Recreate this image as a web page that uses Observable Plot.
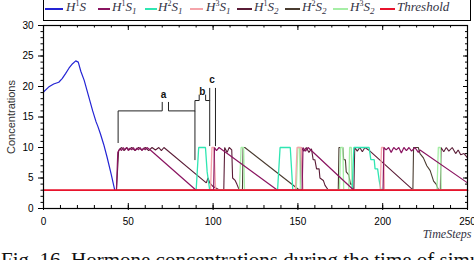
<!DOCTYPE html>
<html><head><meta charset="utf-8">
<script src="https://cdn.jsdelivr.net/npm/d3@7"></script>
<script src="https://cdn.jsdelivr.net/npm/@observablehq/plot@0.6"></script>
<style>
html,body{margin:0;padding:0;background:#fff;overflow:hidden;}
#wrap{position:relative;width:474px;height:260px;overflow:hidden;}
#chart{position:absolute;left:0;top:0;}
#legend{position:absolute;left:43px;top:-6px;width:428px;height:27px;border:1px solid #000;box-sizing:border-box;background:#fff;}
.lline{position:absolute;height:2px;top:13px;}
.ltext{position:absolute;top:5px;font-family:"Liberation Serif",serif;font-style:italic;font-size:13px;line-height:13px;color:#333344;white-space:nowrap;}
.ltext sup{font-style:normal;font-size:8px;vertical-align:5px;line-height:0;}
.ltext sub{font-size:9px;vertical-align:-3px;line-height:0;}
#caption{position:absolute;left:1px;top:250px;font-family:"Liberation Serif",serif;font-size:21px;line-height:21px;color:#111;white-space:nowrap;}
</style></head>
<body>
<div id="wrap"><div id="chart"></div><div id="legend"></div><div id="caption">Fig. 16. Hormone concentrations during the time of simulation</div></div>
<script>
// ---- data (time step, concentration) ----
const h1s = [[0,19.1],[3,19.9],[6,20.4],[9,20.7],[11,21.3],[13,22.1],[15,23],[17,23.7],[19,24.2],[20.5,24],[22,22.5],[24,21],[26.5,18.5],[29,16],[31,14.2],[32,13.5],[33.5,12.3],[35.5,10.5],[37.5,8.4],[40,5.5],[42,3]];
const h1s1 = [[43,3],[43.8,9.2],[45,9.8],[46,9.5],[47,10],[48,9.6],[49,10],[50,9.5],[51,9.9],[52,9.6],[53,10],[54,9.5],[55,9.9],[56,9.6],[57,10],[58,9.5],[59,9.9],[60,9.6],[61,10],[63,9.6],[90,3],[100.3,3],[100.8,10],[102,9.5],[103.5,10],[138,3],[152.5,3],[153,10],[154.5,9.4],[156,10],[183,3],[200.2,3],[200.7,10],[202,9.6],[203.5,10],[205,9.2],[206.5,10],[208,9.6],[209.5,10],[211,9.1],[212.5,10],[214,9.5],[215.5,10],[217,9.4],[219,10],[221,9.2],[222,9.6],[250,4.2]];
const h2s1 = [[43,3],[90,3],[91.5,10],[95.5,10],[96.5,6],[97.5,4],[98,3],[138,3],[139.5,10],[145.5,10],[147,3],[182,3],[183,10],[192,10],[193,8],[195,8],[195.5,6.5],[197,6.5],[198,4.5],[199,3],[250,3]];
const h3s1 = [[43,3],[98.5,3],[99.3,10],[100.5,10],[101.5,3],[148.5,3],[149.5,10],[152,10],[153,3],[198.5,3],[199.3,10],[200.5,10],[201,3],[250,3]];
const h1s2 = [[43,3],[44.3,9.5],[46,10],[47.5,9.5],[49,10],[50.5,9.6],[52,10],[54,9.5],[56,10],[58,9.6],[60,10],[62,9.5],[64,10],[66,9.6],[68,10],[69.5,9.5],[71,10],[96,4.2],[97,5],[98,4.2],[100,3.6],[104,3],[106.3,3],[106.8,10],[108.3,9.2],[109.5,10],[111,9.6],[111.5,5],[113,4.6],[114,4],[115.5,3],[151.5,3],[152,10],[153.5,9.4],[155,10],[156.5,9.2],[158,9.8],[159,8],[160,8],[161,6.5],[162.5,6.5],[163,5],[165,4.6],[166,3.8],[168,3],[183,3],[183.5,10],[185,9.4],[186.5,10],[188,9.3],[189.5,10],[191.7,9.6],[218,3],[234,3],[234.4,10],[236,9.3],[237.5,10],[239,9.4],[241,10],[243,9],[244.5,9.6],[246,8.8],[248,9],[250,8.3]];
const h2s2 = [[43,3],[117.3,3],[117.7,10],[118.7,10],[151,3],[173.8,3],[174.2,10],[176.5,10],[177,8],[178,8],[178.5,6],[180,5.5],[181,4],[182,4],[182.5,3],[217.8,3],[218.2,10],[221,10],[222,9],[224,8.3],[226,7],[228,6.2],[230,4.5],[231.5,4],[233,3],[250,3]];
const h3s2 = [[43,3],[115.5,3],[116.5,10],[118,10],[118.5,3],[149,3],[150,10],[151,10],[151.5,3],[174.5,3],[175.2,10],[176.5,10],[177,3],[180,3],[180.5,10],[181.5,10],[182,3],[232,3],[232.8,10],[234,10],[234.5,3],[250,3]];
const threshold = [[0,3],[250,3]];

// ---- annotation brackets ----
const bracketA1 = [[44,10.8],[44,16],[70,16],[70,17.4]];
const bracketA2 = [[73.7,17.4],[73.7,16],[89.3,16],[89.3,8]];
const bracketB1 = [[89.3,16],[89.3,17.7],[91.8,17.7],[91.8,18.6]];
const bracketB2 = [[95.6,18.6],[95.6,17.7],[98,17.7],[98,10.3]];
const bracketC1 = [[98,17.7],[98,19.7]];
const bracketC2 = [[101.4,19.7],[101.4,10.3]];
const annLabels = ["a","b","c"];
const annT = [70.7,93.6,99.4];
const annC = [18.6,19.2,21.1];

// ---- ticks ----
const xMajor = [0,50,100,150,200,250];
const xMinor = [0,10,20,30,40,50,60,70,80,90,100,110,120,130,140,150,160,170,180,190,200,210,220,230,240,250];
const yMajor = [0,5,10,15,20,25,30];
const yMinor = [0,1,2,3,4,5,6,7,8,9,10,11,12,13,14,15,16,17,18,19,20,21,22,23,24,25,26,27,28,29,30];

// ---- series ----
const seriesNames = ["H<sup>1</sup>S","H<sup>1</sup>S<sub>1</sub>","H<sup>2</sup>S<sub>1</sub>","H<sup>3</sup>S<sub>1</sub>","H<sup>1</sup>S<sub>2</sub>","H<sup>2</sup>S<sub>2</sub>","H<sup>3</sup>S<sub>2</sub>","Threshold"];
const seriesData = [h1s,h1s1,h2s1,h3s1,h1s2,h2s2,h3s2,threshold];
const seriesColors = ["#2424d4","#8a1460","#2fe6b2","#f5a4aa","#5a1c36","#4a3c30","#a6eea6","#e8132c"];
const seriesWidths = [1.2,1.2,1.3,1.3,1.1,1.1,1.3,1.7];
const drawOrder = [0,4,5,6,2,3,1,7];

const W = 474, H = 260, mL = 43, mR = 7, mT = 25, mB = 52;
const iW = W - mL - mR, iH = H - mT - mB;

const chart = Plot.plot({
  width: W, height: H,
  marginLeft: mL, marginRight: mR, marginTop: mT, marginBottom: mB,
  style: {fontFamily: "'Liberation Sans', Arial, sans-serif", color: "#000", background: "#fff", overflow: "visible"},
  x: {domain: [0, 250]},
  y: {domain: [0, 30]},
  marks: [
    Plot.axisY(yMajor, {anchor: "left", tickSize: 5, tickPadding: 5, fontSize: 10, label: null, tickFormat: d => d}),
    Plot.axisY(yMinor, {anchor: "left", tickSize: 2.5, tickFormat: () => "", label: null}),
    Plot.axisX(xMajor, {anchor: "bottom", tickSize: 2, tickPadding: 7, fontSize: 10, label: null, tickFormat: d => d}),
    Plot.tickX(xMajor, {x: d => d, insetTop: iH - 5, stroke: "#000"}),
    Plot.tickX(xMinor, {x: d => d, insetTop: iH - 3, stroke: "#000"}),
    Plot.tickX(xMajor, {x: d => d, insetBottom: iH - 5, stroke: "#000"}),
    Plot.tickX(xMinor, {x: d => d, insetBottom: iH - 2.5, stroke: "#000"}),
    Plot.tickY(yMajor, {y: d => d, insetLeft: iW - 4, stroke: "#000"}),
    Plot.tickY(yMinor, {y: d => d, insetLeft: iW - 2, stroke: "#000"}),
    Plot.axisY([], {anchor: "left", label: "Concentrations", labelAnchor: "center", labelArrow: "none", labelOffset: 36, fontSize: 11, fill: "#333"}),
    Plot.axisX([], {anchor: "bottom", label: "TimeSteps", labelAnchor: "right", labelArrow: "none", labelOffset: 29, fontSize: 12, fontFamily: "'Liberation Serif', serif", fontStyle: "italic", fill: "#333344"}),
    ...drawOrder.map(i => Plot.line(seriesData[i], {x: d => d[0], y: d => d[1], stroke: seriesColors[i], strokeWidth: seriesWidths[i], strokeLinejoin: "miter"})),
    ...[bracketA1, bracketA2, bracketB1, bracketB2, bracketC1, bracketC2].map(b => Plot.line(b, {x: d => d[0], y: d => d[1], stroke: "#222", strokeWidth: 1})),
    Plot.text(annLabels, {x: (d, i) => annT[i], y: (d, i) => annC[i], text: d => d, fontWeight: "bold", fontSize: 10, fill: "#111"}),
    Plot.frame({stroke: "#000", strokeWidth: 1.2})
  ]
});
document.getElementById("chart").appendChild(chart);

// ---- legend ----
const lineX = [45,98,145,190,237,285,333,380];
const lineW = [18,12,12,13,15,15,15,15];
const textX = [66,112,158,206,254,302,350,397];
const legend = document.getElementById("legend");
seriesNames.forEach((name, i) => {
  const l = document.createElement("div");
  l.className = "lline";
  l.style.left = (lineX[i] - 44) + "px";
  l.style.width = lineW[i] + "px";
  l.style.background = seriesColors[i];
  legend.appendChild(l);
  const t = document.createElement("div");
  t.className = "ltext";
  t.style.left = (textX[i] - 44) + "px";
  t.innerHTML = name;
  legend.appendChild(t);
});
</script>
</body></html>
